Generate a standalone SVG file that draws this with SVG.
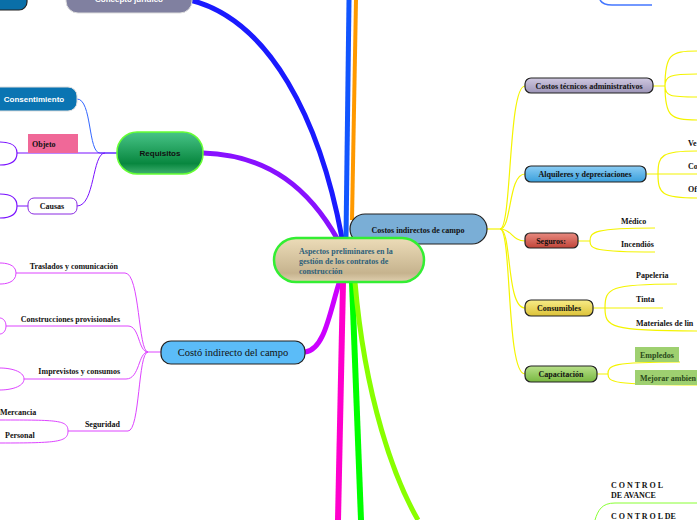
<svg xmlns="http://www.w3.org/2000/svg" width="697" height="520" viewBox="0 0 697 520">
<style>
.s{font-family:"Liberation Serif",serif;font-weight:bold;font-size:8px;fill:#111}
.a{font-family:"Liberation Sans",sans-serif;font-weight:bold;font-size:8px}
.n{font-family:"Liberation Serif",serif;font-size:10.5px;fill:#111}
.t{fill:none}
.box{stroke:#222;stroke-width:1.2}
</style>
<defs>
<linearGradient id="gc" x1="0" y1="0" x2="0" y2="1"><stop offset="0" stop-color="#ecdcb8"/><stop offset="0.8" stop-color="#c6b38e"/><stop offset="1" stop-color="#e0d0b0"/></linearGradient>
<linearGradient id="gr" x1="0" y1="0" x2="0" y2="1"><stop offset="0" stop-color="#48c488"/><stop offset="0.75" stop-color="#08873f"/><stop offset="1" stop-color="#40b070"/></linearGradient>
<linearGradient id="gp" x1="0" y1="0" x2="0" y2="1"><stop offset="0" stop-color="#cfc8e0"/><stop offset="1" stop-color="#9d95b8"/></linearGradient>
<linearGradient id="gb" x1="0" y1="0" x2="0" y2="1"><stop offset="0" stop-color="#8ccdf4"/><stop offset="1" stop-color="#3aa0dc"/></linearGradient>
<linearGradient id="gs" x1="0" y1="0" x2="0" y2="1"><stop offset="0" stop-color="#e88a80"/><stop offset="1" stop-color="#c04438"/></linearGradient>
<linearGradient id="gy" x1="0" y1="0" x2="0" y2="1"><stop offset="0" stop-color="#f8ec88"/><stop offset="1" stop-color="#dcc238"/></linearGradient>
<linearGradient id="gg" x1="0" y1="0" x2="0" y2="1"><stop offset="0" stop-color="#b8e08a"/><stop offset="1" stop-color="#78b840"/></linearGradient>
</defs>
<g id="connectors" class="t">
<path d="M600 0 Q603 5 612 5 L652 5" stroke="#4477ff" stroke-width="1.5"/>
<path d="M190 0 C270 20 320 120 342 238" stroke="#1a1aff" stroke-width="5"/>
<path d="M349 0 L346 238" stroke="#1155ff" stroke-width="5"/>
<path d="M356 0 L352 220" stroke="#ff9900" stroke-width="4"/>
<path d="M203 153 C270 155 310 190 338 240" stroke="#8811ff" stroke-width="5"/>
<path d="M305 352 C325 350 330 310 340 280" stroke="#cc00ff" stroke-width="5"/>
<path d="M343 282 L338 520" stroke="#ff00cc" stroke-width="6"/>
<path d="M352 282 L361 520" stroke="#00ff00" stroke-width="6"/>
<path d="M355 282 C365 400 395 480 418 520" stroke="#88ff00" stroke-width="5"/>
<path d="M117 153 L100 153 C88 153 92 99 77 99" stroke="#3366ff" stroke-width="1"/>
<path d="M117 153 L17 153" stroke="#7a11ff" stroke-width="1.2"/>
<path d="M17 153 C17 143 5 142 0 142 M17 153 C17 164 5 165 0 165" stroke="#7a11ff" stroke-width="1.2"/>
<path d="M105 153 C92 153 95 206 77 206" stroke="#7a11ff" stroke-width="1"/>
<path d="M28 206 L17 206 C17 195 5 194 0 194 M17 206 C17 217 5 218 0 218" stroke="#7a11ff" stroke-width="1.2"/>
<g stroke="#dd44ff" stroke-width="1">
<path d="M161 352 L148 352"/>
<path d="M148 352 C138 352 140 273 125 273 L16 273 C16 264 5 263 0 263 M16 273 C16 283 5 284 0 284"/>
<path d="M148 352 C138 352 140 326 128 326 L6 326 C6 320 2 318 0 318 M6 326 C6 332 2 334 0 334"/>
<path d="M148 352 C138 352 140 379 126 379 L24 379 C24 371 10 368 0 368 M24 379 C24 387 10 390 0 390"/>
<path d="M148 352 C138 352 140 431 128 431 L68 431 C68 420 58 420 0 420 M68 431 C68 442 58 443 0 443"/>
</g>
<g stroke="#f4f400" stroke-width="1.2">
<path d="M487 229 L500 229"/>
<path d="M500 229 C512 229 508 86 525 86"/>
<path d="M500 229 C512 229 508 174 525 174"/>
<path d="M500 229 C512 229 512 241 525 241"/>
<path d="M500 229 C512 229 506 308 525 308"/>
<path d="M500 229 C512 229 506 374 525 374"/>
<path d="M653 86 L665 86 C665 55 670 51 697 51 M665 86 C665 76 670 74 697 74 M665 86 C665 96 670 97 697 97 M665 86 C665 116 670 120 697 120"/>
<path d="M646 174 L658 174 C658 155 662 151 697 151 M658 174 L697 174 M658 174 C658 194 662 198 697 198"/>
<path d="M578 241 L590 241 C590 232 594 228 655 228 M590 241 C590 249 594 252 655 252"/>
<path d="M593 308 L605 308 C605 288 610 284 677 284 M605 308 L663 308 M605 308 C605 327 610 331 697 331"/>
<path d="M597 374 L608 374 C608 365 612 362 680 362 M608 374 C608 382 612 385 697 385"/>
</g>
<path d="M595 520 C598 510 602 503 615 503 L697 503" stroke="#88ff33" stroke-width="1"/>
</g>
<g id="n-topleft"><rect x="-20" y="-20" width="47" height="30" rx="8" fill="#0a6fa8" class="box"/></g>
<g id="n-concepto"><rect x="66" y="-20" width="126" height="33" rx="12" fill="#8080a0" stroke="#ddd"/><text x="129" y="2" text-anchor="middle" class="a" fill="#fff">Concepto jurídico</text></g>
<g id="n-consent"><rect x="-12" y="87" width="89" height="24" rx="9" fill="#0a74b2" stroke="#ddd"/><text x="34" y="102" text-anchor="middle" class="a" fill="#fff">Consentimiento</text></g>
<g id="n-req"><rect x="117" y="132" width="86" height="42" rx="20" fill="url(#gr)" stroke="#66ff33" stroke-width="1.5"/><text x="160" y="156" text-anchor="middle" class="a" fill="#111">Requisitos</text></g>
<g id="n-objeto"><rect x="28" y="134" width="50" height="19" fill="#f06898"/><text x="32" y="147" class="s">Objeto</text></g>
<g id="n-causas"><rect x="28" y="198" width="49" height="16" rx="6" fill="#fff" stroke="#8a2be2" stroke-width="1"/><text x="52" y="209" text-anchor="middle" class="s">Causas</text></g>
<g id="n-campo"><rect x="161" y="341" width="144" height="23" rx="10" fill="#5bbcf8" class="box"/><text x="233" y="356" text-anchor="middle" class="n">Costó indirecto del campo</text></g>
<g id="n-l1"><text x="118" y="269" text-anchor="end" class="s">Traslados y comunicación</text></g>
<g id="n-l2"><text x="120" y="322" text-anchor="end" class="s">Construcciones provisionales</text></g>
<g id="n-l3"><text x="120" y="374" text-anchor="end" class="s">Imprevistos y consumos</text></g>
<g id="n-l4"><text x="120" y="427" text-anchor="end" class="s">Seguridad</text></g>
<g id="n-l5"><text x="0" y="415" class="s">Mercancia</text></g>
<g id="n-l6"><text x="5" y="438" class="s">Personal</text></g>
<g id="n-cic"><rect x="350" y="214" width="137" height="30" rx="15" fill="#7aaed6" class="box"/><text x="418" y="233" text-anchor="middle" class="s">Costos indirectos de campo</text></g>
<g id="n-center"><rect x="274" y="238" width="150" height="44" rx="22" fill="url(#gc)" stroke="#33ee33" stroke-width="2.5"/><text class="s" style="fill:#2e5f7a"><tspan x="299" y="254">Aspectos preliminares en la</tspan><tspan x="299" y="264">gestión de los contratos de</tspan><tspan x="299" y="274">construcción</tspan></text></g>
<g id="n-cta"><rect x="525" y="78" width="128" height="15" rx="6" fill="url(#gp)" class="box"/><text x="589" y="88.5" text-anchor="middle" class="s">Costos técnicos administrativos</text></g>
<g id="n-alq"><rect x="525" y="166" width="121" height="16" rx="6" fill="url(#gb)" class="box"/><text x="585" y="177" text-anchor="middle" class="s">Alquileres y depreciaciones</text></g>
<g id="n-ve"><text x="688" y="146" class="s">Ve</text></g>
<g id="n-co"><text x="688" y="169" class="s">Co</text></g>
<g id="n-of"><text x="688" y="192" class="s">Of</text></g>
<g id="n-seg"><rect x="525" y="233" width="53" height="15" rx="5" fill="url(#gs)" class="box"/><text x="551" y="244" text-anchor="middle" class="s">Seguros:</text></g>
<g id="n-med"><text x="621" y="224" class="s">Médico</text></g>
<g id="n-inc"><text x="621" y="247" class="s">Incendiós</text></g>
<g id="n-cons"><rect x="525" y="300" width="68" height="16" rx="6" fill="url(#gy)" class="box"/><text x="559" y="310.5" text-anchor="middle" class="s">Consumibles</text></g>
<g id="n-pap"><text x="636" y="278" class="s">Papeleria</text></g>
<g id="n-tin"><text x="636" y="302" class="s">Tinta</text></g>
<g id="n-mat"><text x="636" y="326" class="s">Materiales de lin</text></g>
<g id="n-cap"><rect x="525" y="366" width="72" height="16" rx="6" fill="url(#gg)" class="box"/><text x="561" y="377" text-anchor="middle" class="s">Capacitación</text></g>
<g id="n-emp"><rect x="635" y="347" width="44" height="15" fill="#9ed070"/><text x="640" y="357.5" class="s" style="fill:#2a4a1a">Empledos</text></g>
<g id="n-mej"><rect x="635" y="370" width="70" height="15" fill="#9ed070"/><text x="640" y="380.5" class="s" style="fill:#2a4a1a">Mejorar ambien</text></g>
<g id="n-ctrl1"><text class="s"><tspan x="611" y="488">C O N T R O L</tspan><tspan x="611" y="498">DE AVANCE</tspan></text></g>
<g id="n-ctrl2"><text x="611" y="519" class="s">C O N T R O L DE</text></g>
</svg>
